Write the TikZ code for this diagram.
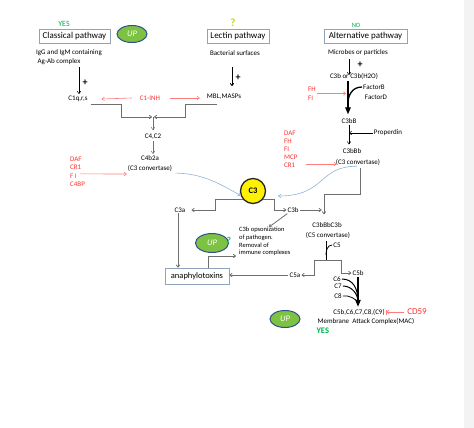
\documentclass[tikz,border=0pt]{standalone}
\usepackage{fontspec}
\setmainfont{Carlito}
\usepackage{tikz}
\usetikzlibrary{arrows.meta,positioning,calc,shapes.geometric}
\definecolor{PathGreen}{HTML}{00B050}
\definecolor{InhibRed}{HTML}{FF3030}
\definecolor{InhibArrow}{HTML}{FF7C7C}
\definecolor{StepGrey}{HTML}{6F6F6F}
\definecolor{BoxBorder}{HTML}{8FA3BC}
\definecolor{BadgeGreen}{HTML}{7DC242}
\definecolor{BadgeBlue}{HTML}{2F4F8F}
\definecolor{FlowBlue}{HTML}{93B3D8}
\definecolor{QueryYellow}{HTML}{C6D41A}
\definecolor{QueryTeal}{HTML}{22A88C}
\definecolor{StripGrey}{HTML}{F3F3F3}

\begin{document}
\begin{tikzpicture}[x=1pt,y=-1pt,
  pbox/.style={draw=BoxBorder,line width=0.7pt,fill=white,minimum height=14pt,inner sep=1pt,font=\fontsize{9}{10}\selectfont},
  badge/.style={ellipse,draw=BadgeBlue,line width=1pt,fill=BadgeGreen,text=white,font=\fontsize{8.5}{9}\selectfont\itshape,minimum width=30pt,minimum height=17pt,inner sep=0pt},
  lbl/.style={font=\fontsize{7}{8.5}\selectfont,inner sep=1pt},
  inh/.style={text=InhibRed,font=\fontsize{7}{9}\selectfont,inner sep=1pt},
  inharrow/.style={InhibArrow,line width=0.6pt,-{To[length=3pt,width=4pt]}},
  flow/.style={line width=0.5pt,-{To[length=3pt,width=4pt]}},
  stepline/.style={StepGrey,line width=0.8pt,-{To[length=3pt,width=4pt]}},
  bigflow/.style={line width=1.3pt,-{Triangle[length=7pt,width=5.5pt]}},
  blueflow/.style={FlowBlue,line width=0.6pt,-{To[length=3pt,width=4pt]}},
  plussign/.style={font=\fontsize{10}{10}\selectfont\bfseries,inner sep=0pt}]
  \fill[StripGrey] (464,0) rectangle (474,428);
  \useasboundingbox (0,0) rectangle (474,428);

  % Classical
  \node[text=PathGreen,font=\fontsize{8}{9}\selectfont] (yesclass) at (64,24) {YES};
  \node[pbox,minimum width=71pt] (classical) at (74.5,36) {Classical pathway};
  \node[badge] (upclass) at (132,34) {UP};
  \node[lbl,align=left] (igg) at (69,57) {IgG and IgM containing\\\hspace{1.5pt}Ag-Ab complex};
  \node[lbl] (c1q) at (78,99) {C1q,r,s};
  \node[plussign] at (85,83) {+};
  \draw[flow] ($(igg.south -| c1q)+(1,2)$) -- ($(c1q.north)+(1,-1)$);

  % Lectin
  \node[text=QueryYellow,font=\fontsize{11}{11}\selectfont\bfseries] (qlectin) at (233,23) {?};
  \node[pbox,minimum width=62pt] (lectin) at (238,36) {Lectin pathway};
  \node[lbl] (bact) at (235,53) {Bacterial surfaces};
  \node[lbl] (mbl) at (224,97) {MBL,MASPs};
  \node[plussign] at (238,78) {+};
  \draw[flow,line width=0.9pt] ($(bact.south)+(-3,10)$) -- ($(mbl.north)+(8,-7)$);

  % C1-INH
  \node[inh] (c1inh) at (150,98) {C1-INH};
  \draw[inharrow] ($(c1inh.west)+(-7,0)$) -- ($(c1q.east)+(13,0)$);
  \draw[inharrow] ($(c1inh.east)+(9,0)$) -- ($(mbl.west)+(-6,1)$);

  % C4,C2 and C4b2a
  \coordinate (c4join) at (153,117);
  \node[lbl] (c4c2) at (153,137) {C4,C2};
  \node[lbl,align=center,font=\fontsize{7}{10}\selectfont] (c4b2a) at (150,164) {C4b2a\\(C3 convertase)};
  \draw[stepline,shorten >=1pt] ($(c1q.south east)+(2,1)$) -- ++(31,0) |- (c4join);
  \draw[stepline,shorten >=1pt] ($(mbl.south west)+(11,3)$) -- ++(-31,0) |- (c4join);
  \draw[flow,StepGrey] (c4join) -- ($(c4c2.north)+(0,-3)$);
  \draw[flow,StepGrey] ($(c4c2.south)+(0,0)$) -- ($(c4c2.south |- c4b2a.north)+(0,-1)$);
  \foreach \t [count=\i] in {DAF,CR1,F I,C4BP}
    \node[inh,anchor=west] (inhcl\i) at (69,151+8.3*\i) {\t};
  \draw[inharrow] ($(inhcl3.east)+(2,-2)$) -- ($(c4b2a.west)+(0,10)$);

  % Alternative
  \node[text=PathGreen,font=\fontsize{6.5}{7}\selectfont] (noalt) at (356,25) {NO};
  \node[pbox,minimum width=83pt] (altern) at (365.5,36) {Alternative pathway};
  \node[lbl] (microbes) at (358,53) {Microbes or particles};
  \node[plussign] at (360,65) {+};
  \node[lbl] (c3bh) at (354,76) {C3b or C3b(H2O)};
  \draw[flow] ($(microbes.south)+(-9,2)$) -- ($(c3bh.center)+(-5,-1)$);
  \node[lbl] (factorb) at (374,87) {FactorB};
  \node[lbl,below=3.5pt of factorb,xshift=2pt] (factord) {FactorD};
  \node[lbl] (c3bb) at (349,121) {C3bB};
  \coordinate (c3bmerge) at (348,103);
  \draw[bigflow] ($(c3bh.south)+(-6,1)$) -- ($(c3bb.north)+(-1,-3)$);
  \draw[line width=1.3pt] (factorb.west) .. controls +(-11,0) and +(0,-6) .. (c3bmerge);
  \node[inh,align=left] (fhfi) at (312,93.5) {FH\\FI};
  \draw[inharrow] (fhfi.east) -- ++(29,0);
  \node[lbl] (c3bbb) at (352,151) {C3bBb};
  \node[lbl] (properdin) at (388,133) {Properdin};
  \draw[flow] (c3bb.south) -- ($(c3bbb.north)+(-3,-3)$);
  \draw[flow] (properdin.west) -- (properdin.west -| c3bb.south);
  \node[lbl] (conv2) at (358,162) {(C3 convertase)};
  \foreach \t [count=\i] in {DAF,FH,FI,MCP,CR1}
    \node[inh,anchor=west] (inhalt\i) at (283,125+8*\i) {\t};
  \draw[inharrow] ($(inhalt5.east)+(10,-1)$) -- ($(conv2.west)+(2,2)$);

  % C3
  \node[circle,draw=black!85,line width=1.3pt,fill=yellow,minimum size=25pt,inner sep=0pt,font=\fontsize{8.5}{9}\selectfont\bfseries] (c3) at (253,191) {C3};
  \draw[blueflow] ($(c4b2a.south east)+(2,0)$) .. controls +(28,0) and +(-18,-10) .. (c3.200);
  \draw[blueflow] ($(conv2.south)+(-1,0)$) .. controls (318,166) and (326,196) .. ($(c3.east)+(12,5)$);
  \node[lbl] (c3a) at (180,210) {C3a};
  \node[lbl] (c3b) at (293,210) {C3b};
  \draw[stepline,shorten >=5pt] (c3.220) -- ++(-28,0) |- (c3a.east);
  \draw[stepline] (c3.320) -- ++(11,0) |- (c3b.west);

  % C5 convertase
  \node[lbl] (c3bbbc3b) at (327,225) {C3bBbC3b};
  \node[lbl] (c5conv) at (328,235) {(C5 convertase)};
  \draw[stepline] ($(conv2.south)+(2,2)$) -- ++(0,26) -| ($(c3bbbc3b.north)+(-3,-7)$);
  \draw[stepline] (c3b.east) -- ++(22,0);
  \coordinate (c5split) at (326,260);
  \node[lbl] (c5) at (337,245) {C5};
  \draw[line width=0.8pt] ($(c5conv.south)+(-2,2)$) -- (c5split);
  \draw[line width=0.8pt] (c5.west) .. controls +(-5,0) and +(0,-4) .. ($(c5split)+(0,-5)$);
  \node[lbl] (c5a) at (295,275) {C5a};
  \node[lbl] (c5b) at (358,273) {C5b};
  \draw[stepline] (c5split) -- ++(-12,0) |- (c5a.east);
  \draw[stepline] (c5split) -- ++(15,0) |- (c5b.west);

  % anaphylotoxins
  \node[pbox,minimum width=64pt,minimum height=16pt,font=\fontsize{8.5}{9}\selectfont] (anaph) at (197,276) {anaphylotoxins};
  \node[lbl,align=left,anchor=north west,font=\fontsize{6.5}{7.7}\selectfont] (ops) at (238,226) {C3b opsonization\\of pathogen.\\Removal of\\immune complexes};
  \node[badge,minimum width=33pt,minimum height=19pt] (upops) at (212,243) {UP};
  \node[text=QueryTeal,font=\fontsize{9}{9}\selectfont\bfseries] at (229,240) {?};
  \draw[stepline] ($(c3a.south)+(-2,0)$) -- ($(c3a.south |- anaph.north)+(-2,0)$);
  \draw[stepline] (c5a.west) -- (c5a.west -| anaph.east);
  \draw[stepline] ($(c3b.south west)+(1,0)$) -- ($(ops.north west)+(31,1)$);
  \draw[stepline] ($(anaph.north)+(11,0)$) |- ($(ops.south west)+(-2,-1)$);

  % MAC
  \node[lbl] (c6) at (337,279) {C6};
  \node[lbl] (c7) at (338,286) {C7};
  \node[lbl] (c8) at (338,296) {C8};
  \node[lbl] (mac) at (359,312) {C5b,C6,C7,C8,(C9)};
  \coordinate (macjoin) at (358,302);
  \draw[bigflow,line width=1.1pt] (c5b.south) -- ($(c5b.south |- mac.north)+(0,-1)$);
  \draw[line width=1pt] (c6.east) .. controls +(11,0) and +(0,-14) .. (macjoin);
  \draw[line width=1pt] (c7.east) .. controls +(9,0) and +(0,-8) .. (macjoin);
  \draw[line width=0.8pt] (c8.east) .. controls +(7,-1) and +(-3,-3) .. (macjoin);
  \node[text=InhibRed,font=\fontsize{9}{10}\selectfont] (cd59) at (417,312) {CD59};
  \draw[InhibArrow,line width=0.6pt,-{To[length=3pt,width=4pt]Bar[width=5pt]}] (cd59.west) -- (mac.east);
  \node[lbl] (macname) at (366,322) {Membrane\ \ Attack Complex(MAC)};
  \node[text=PathGreen,font=\fontsize{8.5}{9}\selectfont\bfseries,anchor=west] (yesmac) at (313,331) {YES};
  \node[badge] (upmac) at (285,319) {UP};
\end{tikzpicture}
\end{document}
